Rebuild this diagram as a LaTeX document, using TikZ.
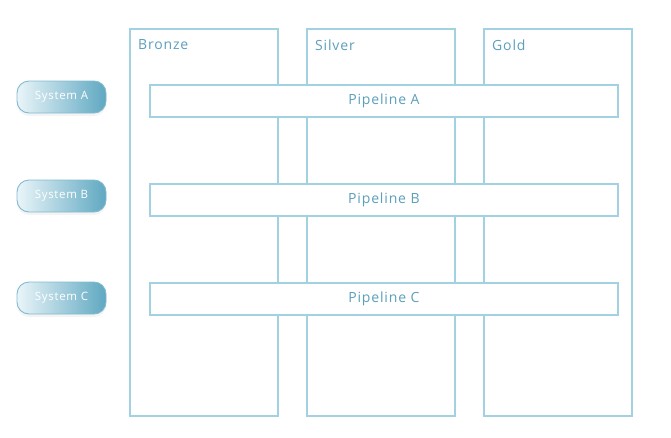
\documentclass[tikz,border=0pt]{standalone}
\usepackage{fontspec}
\setmainfont{Open Sans}[LetterSpace=6]
\usetikzlibrary{shadows}
\definecolor{lineblue}{HTML}{A2D1E1}
\definecolor{textblue}{HTML}{5C9FBC}
\definecolor{sysleft}{HTML}{EAF5F9}
\definecolor{sysright}{HTML}{5FA8C1}
\definecolor{sysborder}{HTML}{80BBCF}
\begin{document}
\begin{tikzpicture}[x=1pt,y=-1pt,
  layer/.style={draw=lineblue,line width=1.8pt,fill=white,minimum width=148pt,minimum height=387pt,anchor=north west,inner sep=0pt},
  layerlabel/.style={text=textblue,font=\fontsize{14}{16}\selectfont,anchor=north west,inner sep=0pt},
  pipe/.style={draw=lineblue,line width=1.8pt,fill=white,minimum width=468pt,minimum height=32pt,anchor=north west,inner sep=0pt,text=textblue,font=\fontsize{14}{16}\selectfont},
  system/.style={draw=sysborder,line width=0.9pt,rounded corners=12pt,left color=sysleft,right color=sysright,minimum width=89pt,minimum height=32pt,inner sep=0pt,text=white,font=\fontsize{11.5}{13}\selectfont,
    drop shadow={shadow xshift=0pt,shadow yshift=-3pt,fill=black!15,opacity=0.3}}
]
\useasboundingbox (0,0) rectangle (671,437);
\node[layer] (bronze) at (129,28) {};
\node[layer] (silver) at (306,28) {};
\node[layer] (gold) at (483,28) {};
\node[layerlabel] (lb) at (138,39.5) {Bronze};
\node[layerlabel] (ls) at (315,39.5) {Silver};
\node[layerlabel] (lg) at (492,39.5) {Gold};
\node[pipe] (pa) at (149,84) {Pipeline A};
\node[pipe] (pb) at (149,183) {Pipeline B};
\node[pipe] (pc) at (149,282) {Pipeline C};
\node[system] (sa) at (61.5,97) {System A};
\node[system] (sb) at (61.5,196) {System B};
\node[system] (sc) at (61.5,298) {System C};
\end{tikzpicture}
\end{document}
